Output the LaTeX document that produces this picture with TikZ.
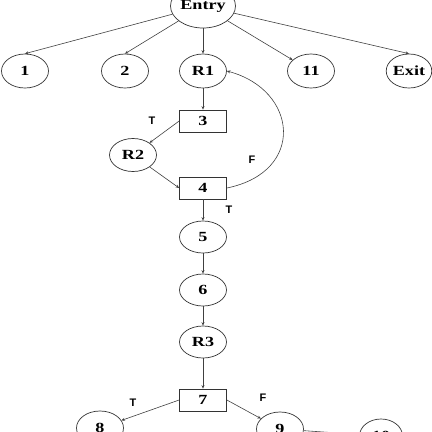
\documentclass[tikz,border=0pt]{standalone}
\usepackage{fontspec}
\setmainfont{Liberation Serif}[FakeStretch=1.3]
\newfontfamily\labelfont{Liberation Sans}
\usetikzlibrary{shapes,arrows.meta}

\begin{document}
\begin{tikzpicture}[x=1bp,y=-1bp]
	\tikzstyle{every node}=[font=\fontsize{14}{16}\selectfont\bfseries]
	\tikzstyle{oval}=[ellipse, draw=black!80, line width=0.7pt, minimum width=47bp, minimum height=34bp, inner sep=0pt]
	\tikzstyle{blk}=[rectangle, draw=black!80, line width=0.7pt, minimum width=47bp, minimum height=22bp, inner sep=0pt]
	\tikzstyle{edge}=[-{Stealth[length=3.5pt,width=3pt]}, line width=0.6pt, black!75]
	\tikzstyle{tf}=[font=\labelfont\fontsize{11}{12}\selectfont\bfseries]

	\useasboundingbox (0,0) rectangle (432,432);

	%% top row
	\node[oval, minimum width=65bp, minimum height=44bp] (entry) at (203,6) {Entry};
	\node[oval] (n1) at (25,71) {1};
	\node[oval] (n2) at (125,71) {2};
	\node[oval] (R1) at (203,71) {R1};
	\node[oval] (n11) at (311,71) {11};
	\node[oval, minimum width=43bp] (exit) at (409,71) {Exit};

	%% middle column
	\node[blk] (b3) at (203,121) {3};
	\node[oval, minimum height=33bp] (R2) at (133,155) {R2};
	\node[blk] (b4) at (203,188) {4};
	\node[oval, minimum height=32bp] (n5) at (203,237) {5};
	\node[oval, minimum height=32bp] (n6) at (203,290) {6};
	\node[oval, minimum height=32bp] (R3) at (203,342) {R3};
	\node[blk] (b7) at (203,400) {7};

	%% bottom row
	\node[oval] (n8) at (100,428) {8};
	\node[oval] (n9) at (280,429) {9};
	\node[oval, minimum width=43bp] (n10) at (381,436) {10};

	%% branch labels
	\node[tf] (t3) at (152,121) {T};
	\node[tf] (f4) at (252,160) {F};
	\node[tf] (t4) at (229,210) {T};
	\node[tf] (t7) at (133,403) {T};
	\node[tf] (f7) at (263,398) {F};

	%% edges
	\draw[edge] (entry) -- (n1.north);
	\draw[edge] (entry) -- (n2.north);
	\draw[edge] (entry) -- (R1);
	\draw[edge] (entry) -- (n11);
	\draw[edge] (entry) -- (exit.north);
	\draw[edge] (R1) -- (b3);
	\draw[edge] (b3.west) -- (R2);
	\draw[edge] (R2) -- (b4.west);
	\draw[edge] (b4) -- (n5);
	\draw[edge] (n5) -- (n6);
	\draw[edge] (n6) -- (R3);
	\draw[edge] (R3) -- (b7);
	\draw[edge] (b4.east) .. controls (306,172) and (298,90) .. (R1.east);
	\draw[edge] (b7.west) -- (n8);
	\draw[edge] (b7.east) -- (n9);
	\draw[edge] (n9) -- (n10);

\end{tikzpicture}
\end{document}
